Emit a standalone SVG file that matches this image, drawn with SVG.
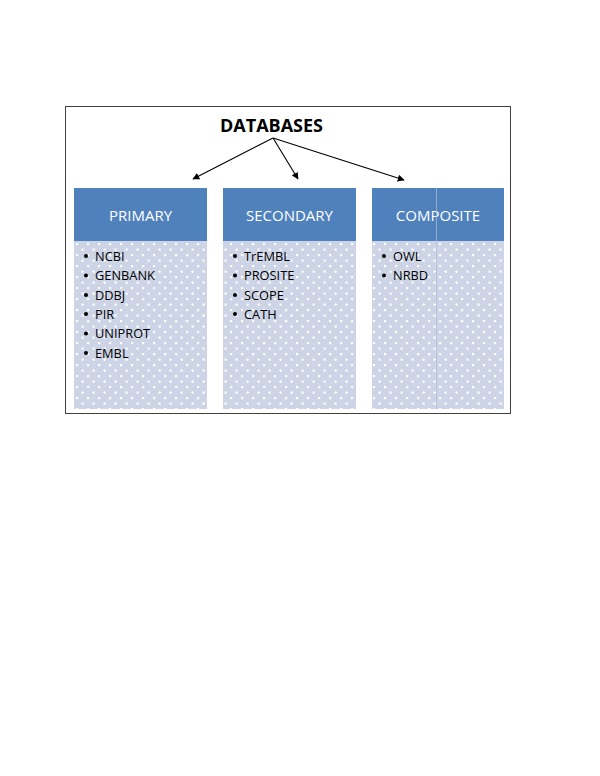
<svg xmlns="http://www.w3.org/2000/svg" width="600" height="776" viewBox="0 0 600 776">
<defs>
<pattern id="dots" x="74" y="241" width="11" height="11" patternUnits="userSpaceOnUse">
<rect width="11" height="11" fill="#CCD4E6"/>
<rect x="2" y="2" width="2.2" height="2.2" fill="#FFFFFF"/>
<rect x="7.5" y="7.5" width="2.2" height="2.2" fill="#FFFFFF"/>
</pattern>
<marker id="arr" viewBox="0 0 10 10" refX="9" refY="5" markerWidth="7" markerHeight="7" orient="auto" markerUnits="userSpaceOnUse">
<path d="M0,0 L10,5 L0,10 z" fill="#000"/>
</marker>
<style>
.hdr{fill:#4F81BD;}
.body{fill:url(#dots);}
.htxt{font-family:"Open Sans","Liberation Sans",sans-serif;font-size:15px;fill:#FFFFFF;text-anchor:middle;}
.item{font-family:"Open Sans","Liberation Sans",sans-serif;font-size:12.8px;fill:#000;}
.bul{fill:#000;}
.conn{stroke:#000;stroke-width:1.1;fill:none;marker-end:url(#arr);}
</style>
</defs>
<rect width="600" height="776" fill="#FFFFFF"/>
<rect x="65.5" y="106.5" width="445" height="307" fill="none" stroke="#404040" stroke-width="1"/>
<g id="title">
<text x="271.5" y="132" font-family="'Open Sans','Liberation Sans',sans-serif" font-size="18.5" font-weight="bold" text-anchor="middle" textLength="103" lengthAdjust="spacingAndGlyphs">DATABASES</text>
</g>
<g id="connectors">
<line class="conn" x1="273" y1="138" x2="193" y2="179"/>
<line class="conn" x1="273" y1="138" x2="298" y2="179"/>
<line class="conn" x1="273" y1="138" x2="404" y2="180"/>
</g>
<g id="primary">
<rect class="body" x="74" y="240" width="133" height="169"/>
<rect class="hdr" x="74" y="188" width="133" height="53"/>
<text class="htxt" x="140.5" y="220.5">PRIMARY</text>
<g class="bul">
<circle cx="86" cy="256" r="2"/><circle cx="86" cy="275.5" r="2"/><circle cx="86" cy="295" r="2"/>
<circle cx="86" cy="314" r="2"/><circle cx="86" cy="333.5" r="2"/><circle cx="86" cy="353" r="2"/>
</g>
<g class="item">
<text x="95" y="260.5">NCBI</text>
<text x="95" y="280">GENBANK</text>
<text x="95" y="299.5">DDBJ</text>
<text x="95" y="318.5">PIR</text>
<text x="95" y="338">UNIPROT</text>
<text x="95" y="357.5">EMBL</text>
</g>
</g>
<g id="secondary">
<rect class="body" x="223" y="240" width="133" height="169"/>
<rect class="hdr" x="223" y="188" width="133" height="53"/>
<text class="htxt" x="289.5" y="220.5">SECONDARY</text>
<g class="bul">
<circle cx="235" cy="256" r="2"/><circle cx="235" cy="275.5" r="2"/><circle cx="235" cy="295" r="2"/><circle cx="235" cy="314" r="2"/>
</g>
<g class="item">
<text x="244" y="260.5">TrEMBL</text>
<text x="244" y="280">PROSITE</text>
<text x="244" y="299.5">SCOPE</text>
<text x="244" y="318.5">CATH</text>
</g>
</g>
<g id="composite">
<rect class="body" x="372" y="240" width="132" height="169"/>
<rect class="hdr" x="372" y="188" width="132" height="53"/>
<text class="htxt" x="438" y="220.5">COMPOSITE</text>
<line x1="436.5" y1="188" x2="436.5" y2="409" stroke="#A9BEDB" stroke-width="0.7"/>
<g class="bul">
<circle cx="384" cy="256" r="2"/><circle cx="384" cy="275.5" r="2"/>
</g>
<g class="item">
<text x="393" y="260.5">OWL</text>
<text x="393" y="280">NRBD</text>
</g>
</g>
</svg>
